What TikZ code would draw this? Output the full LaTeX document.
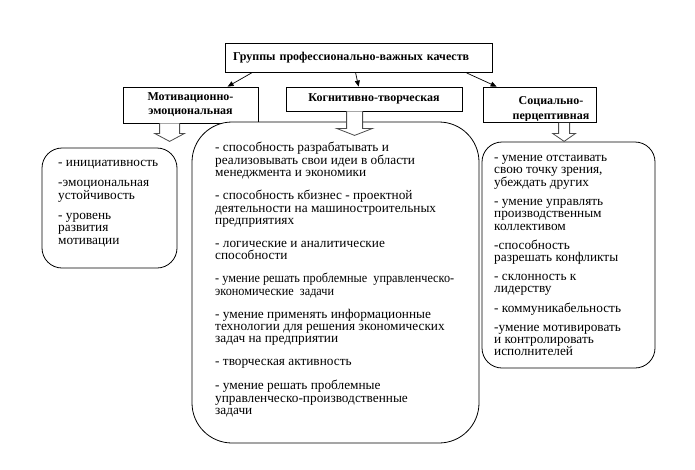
\documentclass[tikz,border=0pt]{standalone}
\usepackage{fontspec}
\usepackage{graphicx}
\setmainfont{Liberation Serif}
\usetikzlibrary{arrows.meta,calc}
\newcommand{\narrowline}[1]{\scalebox{0.92}[1]{#1}}
\begin{document}
\begin{tikzpicture}[x=1pt,y=-1pt,
  hdr/.style={draw,line width=0.8pt,inner sep=0pt,font=\fontsize{12}{14}\selectfont\bfseries,align=center},
  hdrtxt/.style={inner sep=0pt,anchor=base,font=\fontsize{12}{14}\selectfont\bfseries},
  rbox/.style={draw,line width=0.8pt,inner sep=0pt,fill=white},
  txt/.style={inner sep=0pt,anchor=north west,align=left},
  conn/.style={line width=0.7pt,-{Triangle[length=6pt,width=5pt]}},
  barrow/.style={draw=black!70,fill=white,line width=0.8pt}]
\useasboundingbox (0,0) rectangle (695,469);

% header boxes
\node[hdr,minimum width=267pt,minimum height=29.5pt,text width=251pt,align=left] (top) at (358.5,57.75) {Группы профессионально-важных качеств};
\node[hdr,minimum width=135pt,minimum height=36pt] (mot) at (190.5,105) {Мотивационно-\\эмоциональная};
\node[hdr,minimum width=176pt,minimum height=24pt] (cog) at (374,99) {Когнитивно-творческая};
\node[hdr,minimum width=113pt,minimum height=35.5pt] (soc) at (539.5,104.75) {};
\begin{scope}
  \clip (soc.north west) rectangle ([yshift=2.5pt]soc.south east);
  \node[hdrtxt] (socA) at (551,104) {Социально-};
  \node[hdrtxt] (socB) at (551,119.5) {перцептивная};
\end{scope}

% connectors
\draw[conn] ([xshift=27pt]top.south west) -- ([xshift=105pt]mot.north west);
\draw[conn] ([xshift=131pt]top.south west) -- ([xshift=73pt]cog.north west);
\draw[conn] ([xshift=242pt]top.south west) -- ([xshift=14pt]soc.north west);

% content boxes
\node[rbox,rounded corners=20pt,minimum width=135pt,minimum height=120pt] (motbox) at (109.5,208) {};
\node[rbox,rounded corners=40pt,minimum width=287pt,minimum height=321pt] (cogbox) at (335.5,282.5) {};
\node[rbox,rounded corners=20pt,minimum width=173pt,minimum height=226pt] (socbox) at (568.5,255) {};

% block arrows
\draw[barrow] ($(mot.south west)+(37,0)$) -- ++(0,10) -- ++(-5,0) -- ++(15,8) -- ++(15,-8) -- ++(-5,0) -- ++(0,-10);
\draw[barrow] ($(cog.south west)+(61,0)$) -- ++(0,17) -- ++(-10,0) -- ++(18,7) -- ++(18,-7) -- ++(-10,0) -- ++(0,-17);
\draw[barrow] ($(soc.south west)+(76,0)$) -- ++(0,10.5) -- ++(-6,0) -- ++(11.5,8) -- ++(11.5,-8) -- ++(-6,0) -- ++(0,-10.5);

% texts
\node[txt,font=\fontsize{13.3}{12.3}\selectfont] (mottxt) at (58,156) {%
\rule{0pt}{10pt}- инициативность\\[8.2pt]
-эмоциональная\\
устойчивость\\[8.2pt]
- уровень\\
развития\\
мотивации};

\node[txt,font=\fontsize{13.3}{12.3}\selectfont] (cogtxt) at (215,141) {%
\rule{0pt}{10pt}- способность разрабатывать и\\
реализовывать свои идеи в области\\
менеджмента и экономики\\[10.7pt]
- способность кбизнес - проектной\\
деятельности на машиностроительных\\
предприятиях\\[10.7pt]
- логические и аналитические\\
способности\\[10.7pt]
\narrowline{- умение решать проблемные\ \ управленческо-}\\
\narrowline{экономические\ \ задачи}\\[10.7pt]
- умение применять информационные\\
технологии для решения экономических\\
задач на предприятии\\[10.7pt]
- творческая активность\\[10.7pt]
- умение решать проблемные\\
управленческо-производственные\\
задачи};

\node[txt,font=\fontsize{13.3}{12.3}\selectfont] (soctxt) at (494,151) {%
\rule{0pt}{10pt}- умение отстаивать\\
свою точку зрения,\\
убеждать других\\[6.5pt]
- умение управлять\\
производственным\\
коллективом\\[6.5pt]
-способность\\
разрешать конфликты\\[6.5pt]
- склонность к\\
лидерству\\[6.5pt]
- коммуникабельность\\[6.5pt]
-умение мотивировать\\
и контролировать\\
исполнителей};
\end{tikzpicture}
\end{document}
